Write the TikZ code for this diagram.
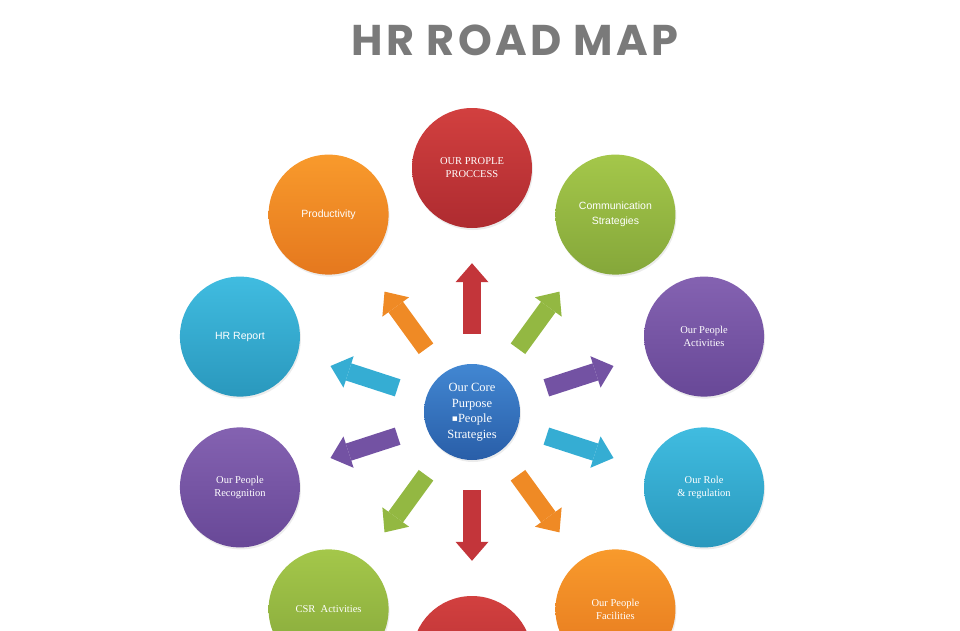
\documentclass[tikz,border=0pt]{standalone}
\usepackage{fontspec}
\setmainfont{Liberation Serif}
\setsansfont{Liberation Sans}
\newfontfamily\titlefont{Poppins}[LetterSpace=7.5]
\newfontfamily\symfont{DejaVu Sans}
\usetikzlibrary{arrows.meta,shadows}

\definecolor{titlegray}{HTML}{7A7A7A}
\definecolor{redtop}{HTML}{D2403F}
\definecolor{redbot}{HTML}{AE2B30}
\definecolor{orangetop}{HTML}{F89A2C}
\definecolor{orangebot}{HTML}{E5781E}
\definecolor{greentop}{HTML}{A4C74A}
\definecolor{greenbot}{HTML}{85A73A}
\definecolor{cyantop}{HTML}{40BCE0}
\definecolor{cyanbot}{HTML}{2A98BD}
\definecolor{purpletop}{HTML}{8462B1}
\definecolor{purplebot}{HTML}{684897}
\definecolor{bluetop}{HTML}{4287D2}
\definecolor{bluebot}{HTML}{295EA8}
\definecolor{hrred}{HTML}{C3353A}
\definecolor{hrorange}{HTML}{EF8A25}
\definecolor{hrgreen}{HTML}{93B842}
\definecolor{hrcyan}{HTML}{35ADD3}
\definecolor{hrpurple}{HTML}{7352A3}

\tikzset{
  bubble/.style={circle, minimum size=120pt, inner sep=0pt, text=white, align=center,
    font=\fontsize{10.5}{13}\selectfont,
    drop shadow={opacity=0.15, shadow xshift=1pt, shadow yshift=-2pt}},
  sansbubble/.style={bubble, font=\sffamily\fontsize{10.5}{15}\selectfont},
  spoke/.style={line width=18pt, shorten <=30pt, shorten >=35pt,
    -{Triangle[width=33pt, length=19pt, line width=0pt]}},
}

\begin{document}
\begin{tikzpicture}[x=1pt, y=1pt]
\useasboundingbox (-472,-218) rectangle (488,412);

% Title
\node[font=\titlefont\bfseries\fontsize{43}{43}\selectfont, text=titlegray] (title) at (43,371.5) {HR ROAD MAP};

% Centre
\node[circle, minimum size=96pt, inner sep=0pt, top color=bluetop, bottom color=bluebot,
  text=white, align=center, font=\fontsize{12.5}{15.5}\selectfont,
  drop shadow={opacity=0.15, shadow xshift=1pt, shadow yshift=-2pt}] (core) at (0,0)
  {Our Core\\Purpose\\\raisebox{1pt}{\symfont\fontsize{9}{9}\selectfont ▪}People\\Strategies};

% Outer circles
\node[bubble, top color=redtop, bottom color=redbot] (process) at (90:244) {OUR PROPLE\\PROCCESS};
\node[sansbubble, top color=orangetop, bottom color=orangebot] (productivity) at (126:244) {Productivity};
\node[sansbubble, top color=cyantop, bottom color=cyanbot] (hrreport) at (162:244) {HR Report};
\node[bubble, top color=purpletop, bottom color=purplebot] (recognition) at (198:244) {Our People\\Recognition};
\node[bubble, top color=greentop, bottom color=greenbot] (csr) at (234:244) {CSR\enspace Activities};
\node[bubble, top color=redtop, bottom color=redbot] (bottom) at (270:244) {};
\node[bubble, top color=orangetop, bottom color=orangebot] (facilities) at (306:244) {Our People\\Facilities};
\node[bubble, top color=cyantop, bottom color=cyanbot] (role) at (342:244) {Our Role\\\& regulation};
\node[bubble, top color=purpletop, bottom color=purplebot] (activities) at (18:244) {Our People\\Activities};
\node[sansbubble, top color=greentop, bottom color=greenbot] (communication) at (54:244) {Communication\\Strategies};

% Arrows
\foreach \n/\c in {process/hrred, productivity/hrorange, hrreport/hrcyan, recognition/hrpurple,
  csr/hrgreen, bottom/hrred, facilities/hrorange, role/hrcyan, activities/hrpurple, communication/hrgreen}
  \draw[spoke, draw=\c] (core) -- (\n);
\end{tikzpicture}
\end{document}
